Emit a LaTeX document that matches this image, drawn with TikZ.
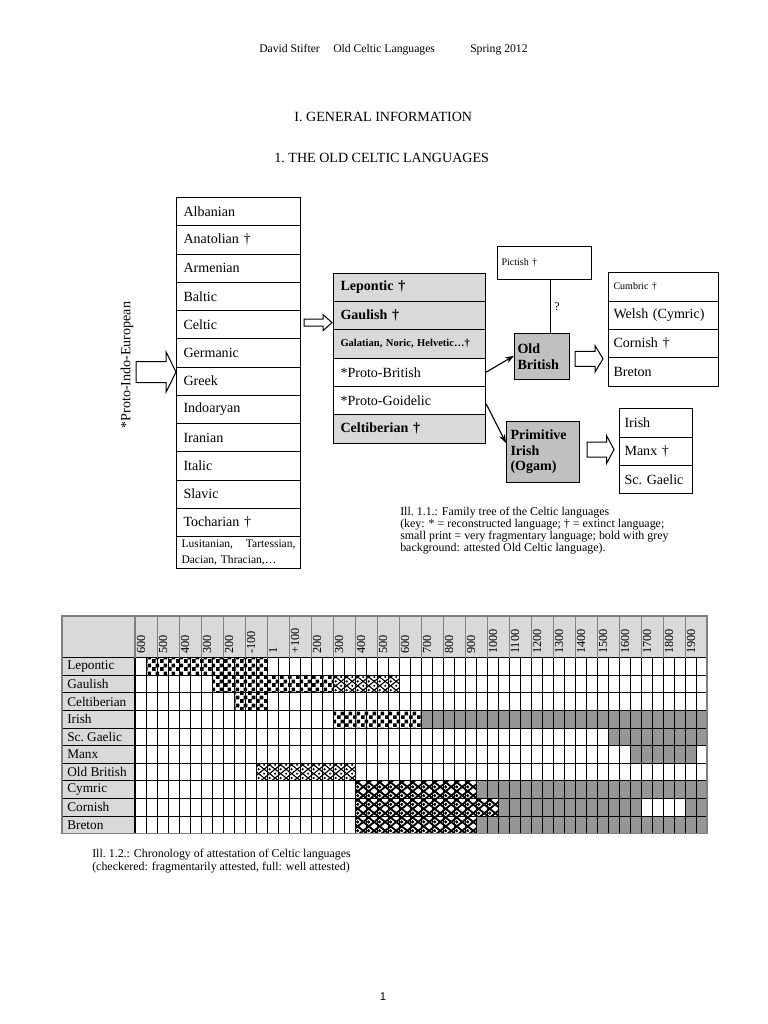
\documentclass[tikz,border=0pt]{standalone}
\usepackage{fontspec}
\setmainfont{Liberation Serif}
\newfontfamily\pgnumfont{Liberation Sans}
\usetikzlibrary{calc,patterns,arrows.meta}
\definecolor{lightg}{HTML}{D9D9D9}
\definecolor{boxg}{HTML}{C0C0C0}
\definecolor{fullg}{HTML}{969696}
\definecolor{gridg}{HTML}{7F7F7F}
\pgfdeclarepatternformonly{chk}{\pgfpointorigin}{\pgfqpoint{6.4pt}{6.4pt}}{\pgfqpoint{6.4pt}{6.4pt}}{%
  \pgfpathrectangle{\pgfpointorigin}{\pgfqpoint{3.25pt}{3.25pt}}%
  \pgfpathrectangle{\pgfqpoint{3.2pt}{3.2pt}}{\pgfqpoint{3.2pt}{3.2pt}}%
  \pgfusepath{fill}}
\pgfdeclarepatternformonly{latA}{\pgfqpoint{-1.2pt}{-1.2pt}}{\pgfqpoint{9.97pt}{8.2pt}}{\pgfqpoint{8.77pt}{7pt}}{%
  \pgfsetlinewidth{1.5pt}%
  \pgfpathmoveto{\pgfqpoint{0pt}{0pt}}\pgfpathlineto{\pgfqpoint{8.77pt}{7pt}}%
  \pgfpathmoveto{\pgfqpoint{0pt}{7pt}}\pgfpathlineto{\pgfqpoint{8.77pt}{0pt}}%
  \pgfusepath{stroke}%
  \pgfpathcircle{\pgfqpoint{4.385pt}{0pt}}{1.2pt}%
  \pgfpathcircle{\pgfqpoint{4.385pt}{7pt}}{1.2pt}%
  \pgfusepath{fill}}
\pgfdeclarepatternformonly{latB}{\pgfqpoint{-1.2pt}{-1.2pt}}{\pgfqpoint{9.97pt}{8.2pt}}{\pgfqpoint{8.77pt}{7pt}}{%
  \pgfsetlinewidth{0.9pt}%
  \pgfpathmoveto{\pgfqpoint{0pt}{0pt}}\pgfpathlineto{\pgfqpoint{8.77pt}{7pt}}%
  \pgfpathmoveto{\pgfqpoint{0pt}{7pt}}\pgfpathlineto{\pgfqpoint{8.77pt}{0pt}}%
  \pgfusepath{stroke}%
  \pgfpathcircle{\pgfqpoint{4.385pt}{0pt}}{1.0pt}%
  \pgfpathcircle{\pgfqpoint{0pt}{3.5pt}}{0.9pt}%
  \pgfusepath{fill}}
\newcommand\blockarr[5]{%
  \draw[barrow] ($#1+(0,-#3)$) -- ($#2+(-#5,-#3)$) -- ($#2+(-#5,-#4)$) -- #2
    -- ($#2+(-#5,#4)$) -- ($#2+(-#5,#3)$) -- ($#1+(0,#3)$) -- cycle;}
\tikzset{
  lbox/.style n args={3}{draw, line width=0.8pt, rectangle, anchor=north west,
    inner xsep=#3*0.796875pt, inner ysep=0pt, minimum width=#1*0.796875pt,
    minimum height=#2*0.796875pt, text width=(#1-2*#3)*0.796875pt, align=left},
  big/.style={font=\fontsize{11.2}{13}\selectfont},
  bigb/.style={font=\fontsize{11.2}{12.4}\selectfont\bfseries},
  smallb/.style={font=\fontsize{8.4}{10}\selectfont\bfseries},
  tiny/.style={font=\fontsize{8}{10}\selectfont},
  barrow/.style={draw, line width=0.8pt, fill=white, line join=miter},
  thinarr/.style={draw, line width=0.9pt, -{Stealth[length=7pt,width=5pt]}},
  plain/.style={inner sep=0pt},
  yr/.style={inner sep=0pt, rotate=90, anchor=west, font=\fontsize{9.8}{10}\selectfont},
  lbl/.style={inner sep=0pt, anchor=west, font=\fontsize{10.6}{11}\selectfont},
  gridl/.style={draw=black, line width=0.8pt},
  chkS/.style={pattern=chk},
  latAS/.style={pattern=latA},
  latBS/.style={pattern=latB},
  fullS/.style={fill=fullg},
}
\begin{document}
\begin{tikzpicture}[x=0.796875pt,y=-0.796875pt]
\path[use as bounding box, fill=white] (0,0) rectangle (768,1024);

% page header and titles
\node[plain, anchor=base west, font=\fontsize{9.3}{11}\selectfont] (hd1) at (259,53) {David Stifter};
\node[plain, anchor=base west, font=\fontsize{9.3}{11}\selectfont] (hd2) at (333,53) {Old Celtic Languages};
\node[plain, anchor=base west, font=\fontsize{9.3}{11}\selectfont] (hd3) at (470,53) {Spring 2012};
\node[plain, font=\fontsize{11.2}{13}\selectfont] (t1) at (383.3,116.7) {I. GENERAL INFORMATION};
\node[plain, font=\fontsize{11.2}{13}\selectfont] (t2) at (381.7,158.3) {1.\ THE OLD CELTIC LANGUAGES};

% left column
\foreach \k/\n/\t in {0/alb/Albanian,1/anat/Anatolian †,2/arm/Armenian,3/balt/Baltic,4/celt/Celtic,5/germ/Germanic,6/greek/Greek,7/indo/Indoaryan,8/iran/Iranian,9/ital/Italic,10/slav/Slavic,11/toch/Tocharian †}
  \node[lbox={124}{28.25}{7}, big] (\n) at (176,{197+28.25*\k}) {\t};
\node[lbox={124}{32}{5}, font=\fontsize{9.2}{12.6}\selectfont] (lusit) at (176,536) {Lusitanian,\hfill Tartessian,\\Dacian, Thracian,…};

\node[plain, rotate=90, font=\fontsize{11.2}{13}\selectfont] (pie) at (127,365) {*Proto-Indo-European};
\blockarr{($(germ.south west)+(-40,4.5)$)}{($(germ.south west)+(0,4.5)$)}{10.5}{20.3}{10}

% middle column
\node[lbox={152}{28.3}{7}, bigb, fill=lightg] (lep) at (333,272.7) {Lepontic †};
\node[lbox={152}{28.3}{7}, bigb, fill=lightg] (gaul) at (333,301) {Gaulish †};
\node[lbox={152}{28.3}{7}, smallb, fill=lightg] (galat) at (333,329.3) {Galatian, Noric, Helvetic…†};
\node[lbox={152}{28.3}{7}, big] (pbrit) at (333,357.6) {*Proto-British};
\node[lbox={152}{28.3}{7}, big] (pgoid) at (333,385.9) {*Proto-Goidelic};
\node[lbox={152}{28.3}{7}, bigb, fill=lightg] (celtib) at (333,414.2) {Celtiberian †};
\blockarr{($(celt.east)+(3,-2)$)}{($(celt.east -| gaul.west)+(-1,-2)$)}{3.5}{8}{9}

% right part
\node[lbox={94}{33}{4}, tiny] (pictish) at (497,246) {Pictish †\\[3pt]};
\node[lbox={55}{46}{3}, bigb, fill=boxg] (oldbrit) at (514,333.3) {Old\\British};
\node[lbox={73}{61}{4}, bigb, fill=boxg] (primirish) at (506,421) {Primitive\\Irish\\(Ogam)};
\coordinate (qx) at (550,0);
\draw[line width=0.8pt] (pictish.south -| qx) -- (oldbrit.north -| qx) node[midway, right, inner sep=3pt, font=\fontsize{9.5}{11}\selectfont] {?};

\node[lbox={110}{28.35}{5}, tiny] (cumb) at (608,272.3) {Cumbric †};
\node[lbox={110}{28.35}{5}, big] (welsh) at (608,300.65) {Welsh (Cymric)};
\node[lbox={110}{28.35}{5}, big] (corn) at (608,329) {Cornish †};
\node[lbox={110}{28.35}{5}, big] (bret) at (608,357.35) {Breton};

\node[lbox={73}{28.3}{5}, big] (irish) at (619,408.3) {Irish};
\node[lbox={73}{28.3}{5}, big] (manx) at (619,436.6) {Manx †};
\node[lbox={73}{28.3}{5}, big] (scg) at (619,464.9) {Sc.\ Gaelic};

\draw[thinarr] (pbrit.east) -- ($(oldbrit.west)+(0,-1)$);
\draw[thinarr] ($(pgoid.east)+(0,3)$) -- ($(primirish.north west)+(0,22)$);
\blockarr{($(oldbrit.east)+(5,2)$)}{($(oldbrit.east -| cumb.west)+(-5,2)$)}{7.5}{13.3}{8}
\blockarr{($(primirish.east)+(7,-2.5)$)}{($(primirish.east -| irish.west)+(-5,-2.5)$)}{7.5}{14}{7.5}

% caption 1.1
\node[plain, anchor=north west, align=left, font=\fontsize{9.5}{9.6}\selectfont] (cap1) at (400,507)
 {Ill.\ 1.1.: Family tree of the Celtic languages\\(key: * = reconstructed language; † = extinct language;\\small print = very fragmentary language; bold with grey\\background: attested Old Celtic language).};

% chronology chart
\fill[lightg] (62,616) rectangle (707,657.7);
\fill[lightg] (62,657.7) rectangle (135,833.7);
\foreach \r/\a/\b/\s in {0/1/11/chkS, 1/7/17/chkS, 1/18/23/latBS, 2/9/11/chkS, 3/18/25/chkS, 3/26/51/fullS,
  4/43/51/fullS, 5/45/50/fullS, 6/11/19/latBS, 7/20/30/latAS, 7/31/51/fullS,
  8/20/32/latAS, 8/33/45/fullS, 8/50/51/fullS, 9/20/30/latAS, 9/31/51/fullS}
  \path[\s] ({135+11*\a},{657.7+17.6*\r}) rectangle ({135+11*(\b+1)},{657.7+17.6*(\r+1)});
\foreach \i in {0,...,52}
  \draw[gridl] ({135+11*\i},657.7) -- ({135+11*\i},833.7);
\foreach \r in {0,...,10}
  \draw[gridl] (62,{657.7+17.6*\r}) -- (707,{657.7+17.6*\r});
\foreach \k in {0,...,26}
  \draw[gridg, line width=0.8pt] ({135+22*\k},616) -- ({135+22*\k},657.7);
\draw[gridg, line width=1pt] (62,616) rectangle (707,833.7);
\foreach \k/\t in {0/600,1/500,2/400,3/300,4/200,5/-100,6/1,7/+100,8/200,9/300,10/400,11/500,12/600,13/700,14/800,15/900,16/1000,17/1100,18/1200,19/1300,20/1400,21/1500,22/1600,23/1700,24/1800,25/1900}
  \node[yr] (yr\k) at ({141+22*\k},654) {\t};
\foreach \r/\t in {0/Lepontic,1/Gaulish,2/Celtiberian,3/Irish,4/Sc.\ Gaelic,5/Manx,6/Old British,7/Cymric,8/Cornish,9/Breton}
  \node[lbl] (lab\r) at (67,{666.5+17.6*\r}) {\t};

% caption 1.2
\node[plain, anchor=north west, align=left, font=\fontsize{9.5}{10.4}\selectfont] (cap2) at (92,849)
 {Ill.\ 1.2.: Chronology of attestation of Celtic languages\\(checkered: fragmentarily attested, full: well attested)};

\node[plain, font=\pgnumfont\fontsize{9}{10}\selectfont] (pgno) at (383,997) {1};
\end{tikzpicture}
\end{document}
